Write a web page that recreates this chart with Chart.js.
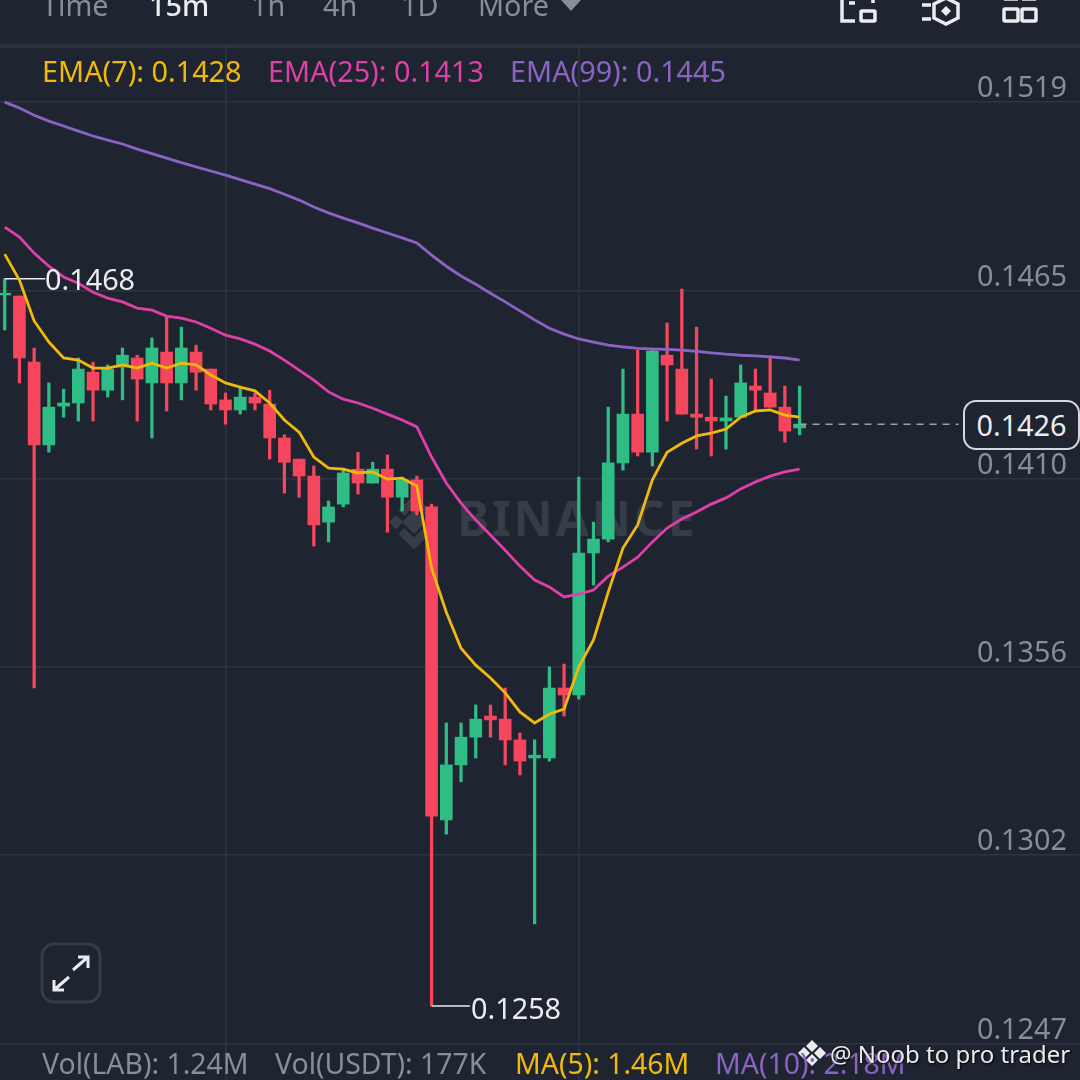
<!DOCTYPE html>
<html>
<head>
<meta charset="utf-8">
<title>LAB 15m</title>
<script src="https://cdn.jsdelivr.net/npm/chart.js@4/dist/chart.umd.min.js"></script>
<style>
html, body { margin: 0; padding: 0; background: #1f2530; }
#wrap { position: relative; width: 1080px; height: 1080px; overflow: hidden; background: #1f2530; font-family: "Noto Sans", sans-serif; }
#myChart { position: absolute; left: 0; top: 0; z-index: 2; }
.t { position: absolute; font-size: 28.8px; line-height: 36px; white-space: nowrap; z-index: 3; }
.gray { color: #848e9c; }
.white { color: #eaecef; }
.yellow { color: #f0b90b; }
.pink { color: #e03fa8; }
.purple { color: #8a63c4; }
#sep { position: absolute; left: 0; top: 44px; width: 1080px; height: 4px; background: #2b313c; z-index: 1; }
#priceBox { position: absolute; left: 963px; top: 400px; width: 113px; height: 46px; border: 2px solid #d5d8dc; border-radius: 13px; background: #1f2530; color: #eaecef; font-size: 28.8px; line-height: 46px; text-align: center; z-index: 3; }
#mark { position: absolute; left: 385px; top: 490px; z-index: 1; }
#credit { font-size: 24px; text-shadow: 1px 1px 2px #000; }
svg { position: absolute; overflow: visible; z-index: 3; }
</style>
</head>
<body>
<div id="wrap">
  <div id="sep"></div>

  <svg id="mark" width="320" height="60" style="z-index:1">
    <g fill="#363c48" transform="translate(29 32) scale(1.2) translate(-25 -31)">
      <path d="M25 21 L35 31 L25 41 L15 31 Z M10 25 L16 31 L10 37 L4 31 Z M40 25 L46 31 L40 37 L34 31 Z"/>
      <path d="M25 8 L38 21 L33 26 L25 18 L17 26 L12 21 Z M25 54 L38 41 L33 36 L25 44 L17 36 L12 41 Z"/>
    </g>
    <text x="72" y="46" fill="#363c48" font-family="Noto Sans" font-weight="700" font-size="48" letter-spacing="3">BINANCE</text>
  </svg>

  <canvas id="myChart" width="1080" height="1080"></canvas>

  <div class="t gray" style="left:42px;top:-13px">Time</div>
  <div class="t white" style="left:149px;top:-13px;font-weight:500">15m</div>
  <div class="t gray" style="left:251px;top:-13px">1h</div>
  <div class="t gray" style="left:323px;top:-13px">4h</div>
  <div class="t gray" style="left:401px;top:-13px">1D</div>
  <div class="t gray" style="left:478px;top:-13px">More</div>
  <svg style="left:0;top:0" width="1080" height="46">
    <path d="M561 0 L581 0 L571 11 Z" fill="#848e9c"/>
    <g fill="none" stroke="#eaecef" stroke-width="3.5">
      <path d="M842 0 L842 21 L855 21"/>
      <path d="M849 3 L855 3 M873 0 L873 3"/>
      <rect x="861" y="11" width="14" height="10" rx="1"/>
      <path d="M922 5 L931 5 M922 19 L931 19"/>
      <path d="M946 -2 L958 4 L958 18 L946 24 L934 18 L934 4 Z"/>
      <path d="M1004 -1 L1018 -1 M1022 -1 L1036 -1"/>
      <rect x="1004" y="9" width="14" height="12" rx="1"/>
      <rect x="1022" y="9" width="14" height="12" rx="1"/>
    </g>
    <path d="M946 6 L951 11 L946 16 L941 11 Z" fill="#eaecef"/>
  </svg>

  <div class="t yellow" style="left:42px;top:53px">EMA(7): 0.1428</div>
  <div class="t pink" style="left:268px;top:53px">EMA(25): 0.1413</div>
  <div class="t purple" style="left:510px;top:53px">EMA(99): 0.1445</div>

  <div class="t white" style="left:45px;top:261px">0.1468</div>
  <div class="t white" style="left:471px;top:990px">0.1258</div>
  <div id="priceBox">0.1426</div>

  <svg style="left:0;top:0" width="1080" height="1080">
    <rect x="42" y="944" width="58" height="58" rx="12" fill="#1f2530" stroke="#363c47" stroke-width="3"/>
    <g fill="none" stroke="#eaecef" stroke-width="3">
      <path d="M73 970 L88 957 M78 957 L88 957 L88 968"/>
      <path d="M69 977 L54 990 M54 980 L54 990 L64 990"/>
    </g>
    <g fill="#eaecef">
      <path d="M812 1040 L818 1046 L812 1052 L806 1046 Z M812 1054 L818 1060 L812 1066 L806 1060 Z"/>
      <path d="M804 1047 L810 1053 L804 1059 L798 1053 Z M820 1047 L826 1053 L820 1059 L814 1053 Z"/>
    </g>
  </svg>

  <div class="t gray" style="left:42px;top:1045px;font-size:28.4px">Vol(LAB): 1.24M</div>
  <div class="t gray" style="left:275px;top:1045px;font-size:28.4px">Vol(USDT): 177K</div>
  <div class="t yellow" style="left:515px;top:1045px;font-size:28.4px">MA(5): 1.46M</div>
  <div class="t purple" style="left:715px;top:1045px;font-size:28.4px">MA(10): 2.18M</div>
  <div class="t white" id="credit" style="left:830px;top:1036px">@ Noob to pro trader</div>
</div>

<script>
window.onload = function () {

var candleIndex = [0,1,2,3,4,5,6,7,8,9,10,11,12,13,14,15,16,17,18,19,20,21,22,23,24,25,26,27,28,29,30,31,32,33,34,35,36,37,38,39,40,41,42,43,44,45,46,47,48,49,50,51,52,53,54];

var opens = [.14633,.14630,.14439,.14200,.14312,.14321,.14410,.14358,.14425,.14451,.14379,.14468,.14379,.14468,.14419,.14330,.14301,.14338,.14318,.14220,.14159,.14110,.13977,.14029,.14130,.14090,.14130,.14049,.14099,.14021,.13117,.13276,.13356,.13417,.13408,.13348,.13296,.13296,.13498,.13478,.13888,.13928,.14148,.14289,.14179,.14459,.14419,.14289,.14280,.14269,.14280,.14370,.14350,.14309,.14249];
var highs = [.14680,.14630,.14480,.14379,.14361,.14451,.14439,.14431,.14480,.14459,.14509,.14572,.14540,.14488,.14419,.14350,.14364,.14350,.14358,.14229,.14159,.14139,.14038,.14133,.14179,.14150,.14171,.14107,.14110,.14029,.13397,.13397,.13449,.13449,.13498,.13368,.13348,.13559,.13567,.14107,.13977,.14309,.14419,.14474,.14477,.14552,.14650,.14540,.14390,.14341,.14431,.14419,.14457,.14370,.14370];
var lows = [.14532,.14379,.13498,.14179,.14280,.14269,.14269,.14338,.14330,.14269,.14220,.14298,.14330,.14358,.14301,.14260,.14289,.14301,.14159,.14061,.14049,.13908,.13920,.14021,.14058,.14090,.13948,.14009,.13998,.12580,.13076,.13227,.13296,.13356,.13276,.13247,.12817,.13287,.13417,.13466,.13795,.13920,.14127,.14168,.14139,.14269,.14289,.14188,.14168,.14188,.14280,.14301,.14309,.14208,.14229];
var closes = [.14638,.14451,.14200,.14309,.14321,.14419,.14358,.14419,.14459,.14390,.14480,.14379,.14480,.14410,.14318,.14301,.14338,.14321,.14220,.14150,.14110,.13969,.14021,.14119,.14090,.14130,.14049,.14099,.14009,.13128,.13276,.13356,.13408,.13406,.13348,.13287,.13304,.13498,.13478,.13888,.13928,.14148,.14289,.14179,.14471,.14431,.14289,.14280,.14269,.14278,.14379,.14358,.14309,.14240,.14260];

var ema7 = [.14751,.14676,.14558,.14497,.14451,.14445,.14422,.14422,.14431,.14422,.14436,.14422,.14436,.14431,.14402,.14379,.14367,.14356,.14321,.14272,.14237,.14165,.14133,.14130,.14119,.14122,.14101,.14104,.14081,.13844,.13717,.13613,.13564,.13527,.13484,.13429,.13397,.13423,.13437,.13559,.13637,.13775,.13902,.13969,.14099,.14179,.14205,.14226,.14234,.14246,.14280,.14298,.14301,.14286,.14280];
var ema25 = [.14829,.14800,.14754,.14716,.14685,.14667,.14641,.14624,.14613,.14595,.14589,.14572,.14566,.14555,.14537,.14517,.14506,.14491,.14471,.14445,.14416,.14387,.14353,.14332,.14321,.14306,.14289,.14272,.14252,.14165,.14090,.14032,.13983,.13940,.13896,.13850,.13810,.13790,.13761,.13769,.13781,.13821,.13847,.13876,.13920,.13960,.13986,.14006,.14029,.14047,.14073,.14093,.14110,.14122,.14130];
var ema99 = [.15190,.15173,.15152,.15135,.15121,.15106,.15092,.15080,.15069,.15054,.15041,.15028,.15015,.15003,.14991,.14979,.14966,.14953,.14940,.14924,.14907,.14887,.14870,.14855,.14841,.14826,.14812,.14798,.14783,.14748,.14716,.14688,.14664,.14638,.14613,.14587,.14561,.14537,.14520,.14506,.14497,.14488,.14483,.14479,.14477,.14476,.14474,.14470,.14466,.14462,.14459,.14457,.14454,.14451,.14445];

var priceTicks = [.1519,.14646,.14102,.13558,.13016,.1247];
var timeTicks = [15,39];

var highMark = [{x:0,y:.1468},{x:2.75,y:.1468}];
var lowMark = [{x:29,y:.1258},{x:31.6,y:.1258}];
var lastPrice = [{x:54,y:.1426},{x:64.8,y:.1426}];

var green = '#2ebd85', red = '#f6465d', gridColor = '#303641';

function pair(a, b) {
    return candleIndex.map(function (i) { return {x: i, y: [a[i], b[i]]}; });
}
function line(a) {
    return candleIndex.map(function (i) { return {x: i, y: a[i]}; });
}
var candleColors = candleIndex.map(function (i) { return closes[i] >= opens[i] ? green : red; });

function emaSet(label, values, color) {
    return {type: 'line', label: label, data: line(values), borderColor: color, borderWidth: 2.8, pointRadius: 0, tension: 0, order: 1};
}
function markSet(label, values) {
    return {type: 'line', label: label, data: values, borderColor: '#eaecef', borderWidth: 1.5, pointRadius: 0, order: 2};
}

var ctx = document.getElementById('myChart').getContext('2d');

new Chart(ctx, {
    type: 'bar',
    data: {
        datasets: [
            {label: 'wick', data: pair(lows, highs), backgroundColor: candleColors, barThickness: 2.6, grouped: false, order: 4},
            {label: 'body', data: pair(opens, closes), backgroundColor: candleColors, barThickness: 12, grouped: false, order: 3},
            emaSet('EMA(7)', ema7, '#f0b90b'),
            emaSet('EMA(25)', ema25, '#e03fa8'),
            emaSet('EMA(99)', ema99, '#8a63c4'),
            markSet('high', highMark),
            markSet('low', lowMark),
            {type: 'line', label: 'last', data: lastPrice, borderColor: '#9aa0a9', borderWidth: 1.5, borderDash: [7, 6], pointRadius: 0, order: 2}
        ]
    },
    options: {
        responsive: false,
        animation: false,
        layout: {padding: {top: 46}},
        plugins: {legend: {display: false}, tooltip: {enabled: false}},
        scales: {
            x: {
                type: 'linear',
                offset: false,
                min: -0.32,
                max: 73.05,
                border: {display: false},
                grid: {color: gridColor, lineWidth: 1.5, drawTicks: false, offset: false},
                ticks: {display: false},
                afterBuildTicks: function (scale) {
                    scale.ticks = timeTicks.map(function (v) { return {value: v}; });
                }
            },
            y: {
                position: 'right',
                min: 0.12366,
                max: 0.15352,
                border: {display: false},
                grid: {color: gridColor, lineWidth: 1.5, drawTicks: false},
                afterBuildTicks: function (scale) {
                    scale.ticks = priceTicks.map(function (v) { return {value: v}; });
                },
                afterFit: function (scale) {
                    scale.width = 0;
                    scale.paddingTop = 0;
                    scale.paddingBottom = 0;
                },
                ticks: {
                    mirror: true,
                    padding: -13,
                    labelOffset: -13,
                    z: 1,
                    color: '#848e9c',
                    font: {family: 'Noto Sans', size: 28.8},
                    callback: function (v) { return v.toFixed(4); }
                }
            }
        }
    }
});

};
</script>
</body>
</html>
